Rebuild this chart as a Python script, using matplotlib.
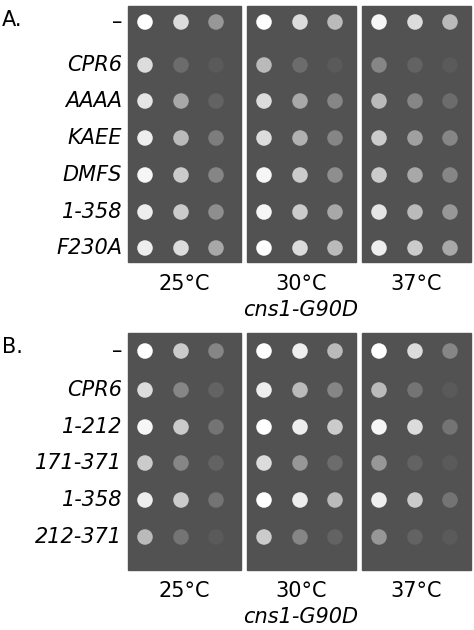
import matplotlib
matplotlib.use("Agg")
import matplotlib.pyplot as plt
from matplotlib.patches import Rectangle
import numpy as np

temps = ["25°C", "30°C", "37°C"]
strain = "cns1-G90D"
rows_a = ["–", "CPR6", "AAAA", "KAEE", "DMFS", "1-358", "F230A"]
rows_b = ["–", "CPR6", "1-212", "171-371", "1-358", "212-371"]
a25 = [[1,.8,.4],[.8,.15,.05],[.85,.5,.1],[.9,.6,.25],[.95,.7,.3],[.9,.7,.35],[.9,.8,.5]]
a30 = [[1,.8,.6],[.6,.15,.05],[.8,.5,.3],[.8,.55,.3],[.95,.7,.35],[.95,.7,.5],[1,.8,.6]]
a37 = [[.95,.8,.6],[.3,.1,.05],[.6,.3,.15],[.7,.45,.3],[.7,.5,.3],[.85,.6,.4],[.9,.7,.5]]
b25 = [[1,.7,.3],[.8,.3,.1],[.95,.7,.2],[.7,.3,.1],[.9,.7,.2],[.6,.2,.05]]
b30 = [[1,.9,.6],[.9,.6,.3],[1,.9,.7],[.8,.4,.15],[1,.9,.6],[.7,.3,.1]]
b37 = [[1,.8,.3],[.6,.2,.05],[.95,.8,.2],[.4,.1,.05],[.9,.7,.2],[.4,.1,.05]]

fig = plt.figure(figsize=(4.74, 6.3), dpi=100)
ax = fig.add_axes([0, 0, 1, 1])
ax.set_xlim(0, 474); ax.set_ylim(630, 0); ax.axis("off")

plates_x = [(128, 241), (247, 356), (362, 471)]
bg = np.array([0.32, 0.32, 0.32])

def panel(letter, ytop, ybot, rows, data, rowy, ty, sy):
    ax.text(2, ytop + 14, letter, fontsize=15, va="center", ha="left")
    for (x0, x1), d, t in zip(plates_x, data, temps):
        ax.add_patch(Rectangle((x0, ytop), x1 - x0, ybot - ytop, color=bg, zorder=1))
        d = np.array(d)
        for r, yy in enumerate(rowy):
            xs = [x0 + 17, x0 + 53, x0 + 88]
            cols = [bg + (1 - bg) * v for v in d[r]]
            ax.scatter(xs, [yy] * 3, s=125, c=cols, zorder=2, linewidths=0)
        ax.text((x0 + x1) / 2, ty, t, fontsize=15, ha="center", va="center")
    for lab, yy in zip(rows, rowy):
        ax.text(122, yy, lab, fontsize=15, ha="right", va="center",
                style="normal" if lab == "–" else "italic")
    ax.text(301, sy, strain, fontsize=15, ha="center", va="center", style="italic")

panel("A.", 6, 262, rows_a, [a25, a30, a37], [22, 65, 101, 138, 175, 212, 248], 284, 310)
panel("B.", 333, 570, rows_b, [b25, b30, b37], [351, 390, 427, 463, 500, 537], 591, 617)

fig.savefig("out.png", dpi=100)
